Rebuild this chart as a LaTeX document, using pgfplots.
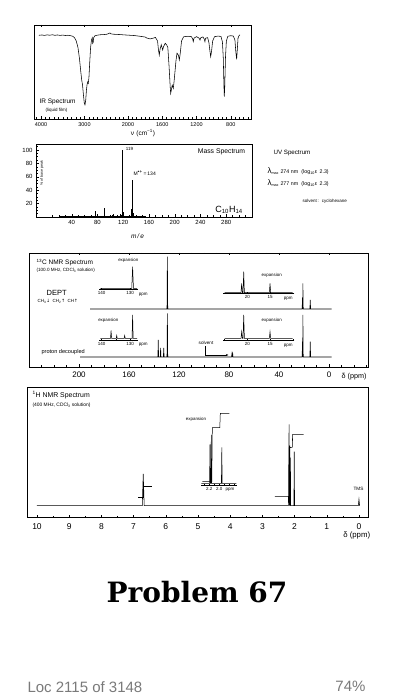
\documentclass[border=0pt]{standalone}
\usepackage{fontspec}
\setmainfont{Liberation Sans}
\newfontfamily\probfont{DejaVu Serif}
\newfontfamily\dejavu{DejaVu Sans}
\usepackage{pgfplots}
\usepackage{pgfplotstable}
\pgfplotsset{compat=1.18}
\usetikzlibrary{arrows.meta}
\newcommand{\fs}[1]{\fontsize{#1}{#1}\selectfont}

\pgfplotsset{
 spec/.style={scale only axis, anchor=south west,
   axis line style={line width=0.6pt},
   tick style={line width=0.45pt, black},
   major tick length=2.5pt, minor tick length=1.5pt,
   /pgf/number format/assume math mode=true},
 inset/.style={scale only axis, anchor=south west,
   axis x line=bottom, axis y line=none,
   x axis line style={-, line width=0.45pt},
   x dir=reverse, ymin=0, clip=false,
   tick style={line width=0.4pt, black},
   major tick length=1.6pt, minor tick length=1.2pt,
   xticklabel style={font=\fs{4.5}, inner sep=1pt},
   /pgf/number format/assume math mode=true},
 tr/.style={black, line width=0.55pt, mark=none},
 tri/.style={black, line width=0.5pt, mark=none}
}

% IR spectrum (wavenumber in cm^-1, transmittance in %)
\pgfplotstableread{
nu T
4050 89.0
3980 89.4
3920 88.9
3860 89.5
3800 89.1
3740 89.6
3680 89.0
3620 89.4
3560 88.9
3500 89.3
3440 88.8
3380 89.1
3320 88.6
3270 88.0
3230 86.5
3190 83
3150 76
3115 64
3085 50
3064 41.5
3045 36
3025 26
3005 17
2989 15
2972 20
2955 31
2940 37
2925 39.5
2913 38
2898 44
2880 60
2860 76
2840 84
2822 86.5
2812 80.5
2800 81.5
2790 86.5
2760 88.5
2700 89.2
2640 89.6
2560 89.8
2480 90.2
2430 91.2
2414 91.5
2395 90.6
2340 90.2
2260 90
2180 89.8
2100 89.5
2000 89.2
}\irA
\pgfplotstableread{
nu T
2000 89.2
1930 88.8
1860 88.0
1800 87.2
1782 86.2
1760 85.6
1740 85.2
1705 86.0
1680 86.8
1655 83
1645 74
1635 68
1626 74
1612 79
1595 73.4
1585 77
1565 80.5
1548 78.7
1535 76
1520 55
1508 35
1502 27.3
1494 31
1484 36
1471 32.6
1460 42
1440 62
1428 70
1412 68
1401 62.8
1390 70
1375 83
1350 87.5
1300 88
1260 87.6
1245 85
1238 82.3
1230 86
1200 87.6
1170 86
1160 84
1150 86.5
1125 87.3
1110 85
1102 82.3
1094 86
1070 86.5
1055 81
1045 73
1035 66.3
1025 72
1012 83
990 87.6
950 88.2
915 87.8
898 82
888 65
880 34
876 23.8
871 34
862 66
852 83
835 88
800 88.6
770 88.2
752 84
742 72
732 63.5
724 74
716 86
705 88.6
694 89.5
}\irB

\begin{document}
\begin{tikzpicture}
\path[use as bounding box, fill=white] (0pt,0pt) rectangle (395pt,700pt);

%================ IR =================
\begin{axis}[spec, at={(34pt,581pt)}, width=217pt, height=94pt,
  xmin=-161, xmax=4828, ymin=0, ymax=100,
  xtick={0,1000,2000,2788,3576,4364},
  xticklabels={4000,3000,2000,1600,1200,800},
  minor xtick={-100,0,100,...,2000,2098.5,2197,...,4828},
  ytick=\empty, xtick pos=both,
  xticklabel style={font=\fs{5.5}}]
\addplot[tr] table[x expr={4000-\thisrow{nu}}, y=T] {\irA};
\addplot[tr] table[x expr={5940-1.97*\thisrow{nu}}, y=T] {\irB};
\end{axis}
\node[anchor=west, font=\fs{6.5}] at (36pt,598pt) {IR Spectrum};
\node[anchor=west, font=\fs{4.5}] at (42pt,590pt) {(liquid film)};
\node[font=\fs{6.5}] at (143pt,567pt) {ν\,\,(cm\textsuperscript{−1})};

%================ Mass =================
\begin{axis}[spec, at={(36pt,483pt)}, width=216pt, height=73pt,
  xmin=-15.5, xmax=320, ymin=0, ymax=109,
  xtick={40,80,...,280}, minor xtick={10,20,...,310},
  ytick={20,40,...,100}, minor ytick={5,10,...,105},
  xtick pos=bottom, ytick pos=left,
  ticklabel style={font=\fs{6}}]
\addplot[tr] coordinates {(20,0.7) (155,0.7)};
\addplot[tr, ycomb, line width=0.6pt] coordinates {
 (77,9) (91,13) (103,3) (105,4) (115,5) (117,3) (119,100) (120,8)
 (133,12) (134,55) (135,6)};
\end{axis}
\node[font=\fs{4.5}] at (129.5pt,551pt) {119};
\node[anchor=west, font=\fs{5}] at (130pt,526.5pt) {M\textsuperscript{•+}\,=\,134};
\node[font=\fs{6.8}] at (221.5pt,548.3pt) {Mass Spectrum};
\node[font=\fs{9}] at (229pt,490pt) {C\textsubscript{10}H\textsubscript{14}};
\node[rotate=90, font=\fs{3.6}] at (42pt,527pt) {\% of base peak};
\node[font=\fs{6.5}\itshape] at (137.5pt,463.5pt) {m\,/\,e};

%================ UV =================
\node[anchor=west, font=\fs{6.2}] at (270pt,547.3pt) {UV Spectrum};
\node[anchor=west, font=\fs{5.3}] at (264pt,529.3pt) {{\fs{8}λ}\textsubscript{max} 274 nm\,\, (log\textsubscript{10}ε\, 2.3)};
\node[anchor=west, font=\fs{5.3}] at (264pt,517.3pt) {{\fs{8}λ}\textsubscript{max} 277 nm\,\, (log\textsubscript{10}ε\, 2.3)};
\node[anchor=west, font=\fs{4.5}] at (299pt,498.3pt) {solvent\,:\,\, cyclohexane};

%================ 13C NMR =================
\begin{axis}[spec, at={(29pt,333pt)}, width=339pt, height=114pt,
  x dir=reverse, xmin=-31.2, xmax=240, ymin=0, ymax=114,
  xtick={0,40,...,200}, minor xtick={-30,-20,...,230},
  ytick=\empty, xtick pos=both,
  xticklabel style={font=\fs{8}, yshift=-1.5pt}]
% DEPT trace
\addplot[tr] coordinates {(191,58) (129.6,58) (129.3,110.3) (129.0,58)
 (21.5,58) (21.2,69) (21.05,58) (20.9,83.7) (20.6,58)
 (15.3,58) (15.0,67) (14.7,58) (-2,58)};
% proton decoupled trace
\addplot[tr] coordinates {(199,10) (136.9,10) (136.6,27) (136.3,10)
 (135.0,10) (134.7,19) (134.4,10) (132.5,10) (132.2,19) (131.9,10)
 (129.6,10) (129.3,53.7) (129.0,10)
 (78.0,10) (77.7,13) (77.5,10) (77.4,13.5) (77.3,10) (77.0,13) (76.8,10)
 (21.5,10) (21.2,25.3) (21.05,10) (20.9,52) (20.6,10)
 (15.3,10) (15.0,25.3) (14.7,10) (-2,10)};
\draw[line width=0.45pt, -{Stealth[length=2.5pt,width=2pt]}]
  (axis cs:99.2,21) -- (axis cs:99.2,12) -- (axis cs:80.5,12);
\end{axis}
\node[anchor=west, font=\fs{6.5}] at (33pt,437.3pt) {\textsuperscript{13}C NMR Spectrum};
\node[anchor=west, font=\fs{4.6}] at (33pt,429.3pt) {(100.0 MHz, CDCl\textsubscript{3} solution)};
\node[font=\fs{7.5}] at (56.7pt,407.3pt) {DEPT};
\node[anchor=west, font=\fs{4.5}] at (34pt,399pt) {CH\textsubscript{3}{\dejavu↓}\; CH\textsubscript{2}{\dejavu↑}\; CH{\dejavu↑}};
\node[anchor=west, font=\fs{5.6}] at (38pt,348.3pt) {proton decoupled};
\node[font=\fs{4.6}] at (206pt,356.7pt) {solvent};
\node[font=\fs{7.2}] at (354pt,323.5pt) {δ (ppm)};
\node[font=\fs{4.4}] at (128.3pt,439.3pt) {expansion};
\node[font=\fs{4.4}] at (108.3pt,379.3pt) {expansion};
\node[font=\fs{4.4}] at (271.7pt,425pt) {expansion};
\node[font=\fs{4.4}] at (271.7pt,379.3pt) {expansion};

% left DEPT inset
\begin{axis}[inset, at={(99pt,410.7pt)}, width=39pt, height=25pt, ymax=25,
  xmin=127.2, xmax=140.95, xtick={140,130}, minor xtick={135}]
\addplot[tri] coordinates {(140.5,1) (129.4,1) (129.1,22.6) (128.8,1) (127.5,1)};
\end{axis}
\node[font=\fs{4.5}] at (143.3pt,405.5pt) {ppm};
% left PD inset
\begin{axis}[inset, at={(99pt,360pt)}, width=39pt, height=28pt, ymax=28,
  xmin=127.2, xmax=140.95, xtick={140,130}, minor xtick={135}]
\addplot[tri] coordinates {(140.5,1.5) (136.9,1.5) (136.7,9.5) (136.5,1.5)
 (134.9,1.5) (134.7,4.5) (134.5,1.5) (132.1,1.5) (131.9,4.5) (131.7,1.5)
 (129.3,1.5) (129.1,25) (128.9,1.5) (127.5,1.5)};
\end{axis}
\node[font=\fs{4.5}] at (143.3pt,354.8pt) {ppm};
% right DEPT inset
\begin{axis}[inset, at={(223.3pt,406.7pt)}, width=71pt, height=24pt, ymax=24,
  xmin=9.65, xmax=25.3, xtick={20,15}, minor xtick={25,10}]
\addplot[tri] coordinates {(25,0.6) (21.4,0.6) (21.25,10) (21.1,0.6) (20.95,0.6)
 (20.8,21.6) (20.65,0.6) (15.15,0.6) (15.0,10) (14.85,0.6) (10,0.6)};
\end{axis}
\node[font=\fs{4.5}] at (288.3pt,401.2pt) {ppm};
% right PD inset
\begin{axis}[inset, at={(223.3pt,360pt)}, width=71pt, height=28pt, ymax=28,
  xmin=9.65, xmax=25.3, xtick={20,15}, minor xtick={25,10}]
\addplot[tri] coordinates {(25,1.7) (21.4,1.7) (21.25,8.3) (21.1,1.7) (20.95,1.7)
 (20.8,25) (20.65,1.7) (15.15,1.7) (15.0,8.3) (14.85,1.7) (10,1.7)};
\end{axis}
\node[font=\fs{4.5}] at (288.3pt,354.5pt) {ppm};

%================ 1H NMR =================
\begin{axis}[spec, at={(27pt,182.3pt)}, width=341.3pt, height=130.7pt,
  x dir=reverse, xmin=-0.29, xmax=10.31, ymin=0, ymax=130.7,
  xtick={0,1,...,10}, minor xtick={0.5,1.5,...,9.5},
  ytick=\empty, xtick pos=bottom,
  xticklabel style={font=\fs{8.5}, yshift=-2.5pt}]
\addplot[tr] coordinates {(10,12) (6.73,12) (6.70,43.7) (6.67,12)
 (2.19,12) (2.17,93.4) (2.16,12) (2.15,72) (2.14,12) (2.13,60) (2.12,12)
 (2.02,12) (2.01,66) (2.00,12) (0.02,12) (0.0,18.4) (-0.02,12) (-0.03,12)};
\addplot[tr] coordinates {(6.85,20.4) (6.70,20.4) (6.70,31) (6.44,31)};
\addplot[tr] coordinates {(2.61,21) (2.17,21) (2.17,70) (2.07,70.5) (2.06,83.4) (1.72,83.4)};
\end{axis}
\node[anchor=west, font=\fs{6.9}] at (29pt,305pt) {\textsuperscript{1}H NMR Spectrum};
\node[anchor=west, font=\fs{4.9}] at (29pt,295pt) {(400 MHz, CDCl\textsubscript{3} solution)};
\node[font=\fs{4.4}] at (196pt,281pt) {expansion};
\node[font=\fs{4.7}] at (358.5pt,211pt) {TMS};
\node[font=\fs{7.8}] at (356.7pt,165pt) {δ (ppm)};
% 1H inset
\begin{axis}[inset, at={(200.7pt,215pt)}, width=36pt, height=75pt, ymax=75,
  xmin=1.652, xmax=2.372, xtick={2.2,2.0}, xticklabels={2.2,2.0},
  minor xtick={2.3,2.1,1.9,1.8,1.7}]
\addplot[tri] coordinates {(2.36,1.7) (2.195,1.7) (2.186,40.7) (2.178,1.7)
 (2.168,1.7) (2.16,50) (2.152,1.7) (1.958,1.7) (1.95,37.7) (1.942,1.7) (1.66,1.7)};
\addplot[tri] coordinates {(2.34,3.3) (2.15,3.3) (2.14,57.3) (1.99,57.3) (1.98,71.7) (1.80,71.7)};
\end{axis}
\node[font=\fs{4.5}] at (230pt,210.5pt) {ppm};

%================ Page text =================
\node[font=\probfont\bfseries\fs{28}] at (197pt,108.3pt) {Problem 67};
\node[anchor=west, font=\fs{15}, text=black!52] at (24pt,13.3pt) {Loc 2115 of 3148};
\node[anchor=east, font=\fs{15}, text=black!52] at (369pt,13.3pt) {74\%};
\end{tikzpicture}
\end{document}
